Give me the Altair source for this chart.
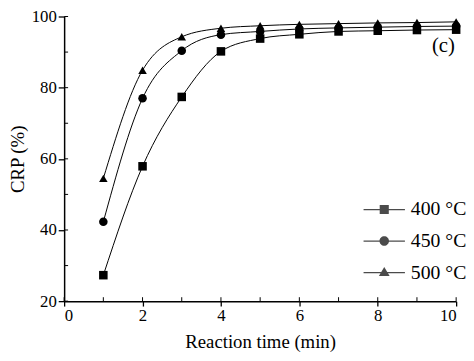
import altair as alt
import pandas as pd

times = [1, 2, 3, 4, 5, 6, 7, 8, 9, 10]
series_names = ["400 °C", "450 °C", "500 °C"]
crp_400 = [27.3, 57.9, 77.4, 90.2, 93.8, 95.0, 95.8, 96.0, 96.2, 96.3]
crp_450 = [42.3, 77.0, 90.4, 94.9, 95.8, 96.5, 96.8, 97.0, 97.2, 97.3]
crp_500 = [54.5, 84.9, 94.3, 96.7, 97.4, 97.8, 98.0, 98.2, 98.3, 98.5]
x_minor = [1, 3, 5, 7, 9]
y_minor = [30, 50, 70, 90]
x_major = [0, 2, 4, 6, 8, 10]
y_major = [20, 40, 60, 80, 100]

rows = []
for name, vals in zip(series_names, [crp_400, crp_450, crp_500]):
    for t, v in zip(times, vals):
        rows.append({"t": t, "crp": v, "series": name})
df = pd.DataFrame(rows)

W, H = 398, 289
FONT = "Times New Roman, Liberation Serif, serif"

xs = alt.Scale(domain=[0, 10], nice=False)
ys = alt.Scale(domain=[20, 100], nice=False)

X = alt.X("t:Q", scale=xs, title="Reaction time (min)",
          axis=alt.Axis(values=x_major, tickSize=5, labelPadding=2, titlePadding=9, grid=False,
                        labelFont=FONT, titleFont=FONT, labelFontSize=17, titleFontSize=19))
Y = alt.Y("crp:Q", scale=ys, title="CRP (%)",
          axis=alt.Axis(values=y_major, tickSize=6, labelPadding=2, titlePadding=4, grid=False,
                        labelFont=FONT, titleFont=FONT, labelFontSize=17, titleFontSize=19))

lines = alt.Chart(df).mark_line(color="black", strokeWidth=1, interpolate="monotone").encode(
    x=X, y=Y, detail="series:N"
)

points = alt.Chart(df).mark_point(filled=True, color="black", size=75, opacity=1).encode(
    x=alt.X("t:Q", scale=xs),
    y=alt.Y("crp:Q", scale=ys),
    shape=alt.Shape(
        "series:N",
        scale=alt.Scale(domain=series_names, range=["square", "circle", "triangle-up"]),
        legend=None,
    ),
)

BAR = "M-1,-0.028H1V0.028H-1Z"
legend_paths = [
    BAR + "M-0.22,-0.22H0.22V0.22H-0.22Z",
    BAR + "M0.23,0A0.23,0.23,0,1,1,-0.23,0A0.23,0.23,0,1,1,0.23,0Z",
    BAR + "M0,-0.27L0.26,0.17H-0.26Z",
]

legend_layer = alt.Chart(df).transform_filter("false").mark_point(
    filled=True, color="black"
).encode(
    x=alt.X("t:Q", scale=xs),
    y=alt.Y("crp:Q", scale=ys),
    shape=alt.Shape(
        "series:N",
        scale=alt.Scale(domain=series_names, range=legend_paths),
        legend=alt.Legend(
            title=None,
            orient="none",
            legendX=303,
            legendY=174,
            symbolSize=1764,
            labelFont=FONT,
            labelFontSize=20,
            labelColor="black",
            labelOffset=5,
            rowPadding=0,
            padding=0,
        ),
    ),
)

xminor_df = pd.DataFrame({"v": x_minor + x_major})
yminor_df = pd.DataFrame({"v": y_minor + y_major})

xticks_in = alt.Chart(xminor_df).mark_rule(color="black", strokeWidth=1).encode(
    x=alt.X("v:Q", scale=xs), y=alt.value(H), y2=alt.value(H - 4)
)
yticks_in = alt.Chart(yminor_df).mark_rule(color="black", strokeWidth=1).encode(
    y=alt.Y("v:Q", scale=ys), x=alt.value(0), x2=alt.value(4)
)

label = alt.Chart(pd.DataFrame({"txt": ["(c)"]})).mark_text(
    font=FONT, fontSize=21, color="black", align="center", baseline="middle"
).encode(x=alt.value(385), y=alt.value(30), text="txt:N")

chart = alt.layer(lines, points, legend_layer, xticks_in, yticks_in, label).resolve_scale(
    shape="independent"
).properties(
    width=W, height=H,
    padding={"left": 57, "top": 6, "right": 10, "bottom": 50},
    autosize=alt.AutoSizeParams(type="none"),
).configure(font=FONT).configure_view(stroke=None).configure_axis(
    domainColor="black", domainWidth=1.5, tickColor="black", tickWidth=1.3,
    labelFont=FONT, labelColor="black",
    titleFont=FONT, titleFontWeight="normal", titleColor="black",
)

chart.save("out.html", embed_options={"renderer": "svg", "actions": False})
